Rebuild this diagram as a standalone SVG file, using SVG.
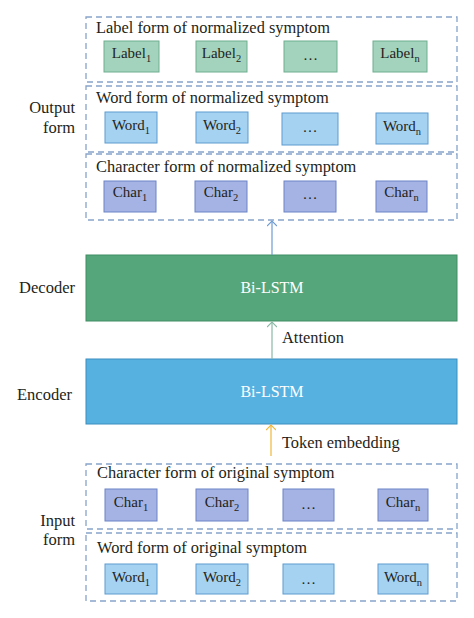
<svg xmlns="http://www.w3.org/2000/svg" width="474" height="618" viewBox="0 0 474 618">
<style>
text{font-family:"Liberation Serif","Times New Roman",serif;fill:#231f20}
.t{font-size:16.4px}
.b{font-size:15px;text-anchor:middle}
.s{font-size:10.5px}
.sec{fill:#fff;stroke:#87a4ca;stroke-width:1.3;stroke-dasharray:6 4}
.lab{fill:#a3d3bd;stroke:#6fae90;stroke-width:1}
.wrd{fill:#a6d2f1;stroke:#5c9bd0;stroke-width:1}
.chr{fill:#a4b3e3;stroke:#6d83c6;stroke-width:1}
.side{font-size:16.5px;text-anchor:end}
.big{font-size:16px;fill:#fff;text-anchor:middle}
</style>
<defs>
<marker id="ab" viewBox="0 0 10 10" refX="5" refY="1" markerWidth="10" markerHeight="10" markerUnits="userSpaceOnUse">
<path d="M0,6 L5,1 L10,6" fill="none" stroke="#6e9bd0" stroke-width="1.2"/>
</marker>
<marker id="ag" viewBox="0 0 10 10" refX="5" refY="1" markerWidth="10" markerHeight="10" markerUnits="userSpaceOnUse">
<path d="M0,6 L5,1 L10,6" fill="none" stroke="#8ab8a4" stroke-width="1.2"/>
</marker>
<marker id="ay" viewBox="0 0 10 10" refX="5" refY="1" markerWidth="10" markerHeight="10" markerUnits="userSpaceOnUse">
<path d="M0,6 L5,1 L10,6" fill="none" stroke="#f2b63a" stroke-width="1.2"/>
</marker>
</defs>

<g id="side-labels">
<text class="side" x="75" y="113">Output</text>
<text class="side" x="75" y="133">form</text>
<text class="side" x="75" y="293">Decoder</text>
<text class="side" x="72" y="400">Encoder</text>
<text class="side" x="75" y="526">Input</text>
<text class="side" x="75" y="545">form</text>
</g>

<g id="label-form">
<rect class="sec" x="86" y="17" width="371" height="65"/>
<text class="t" x="96" y="33">Label form of normalized symptom</text>
<rect class="lab" x="104" y="41" width="55" height="31"/>
<text class="b" x="131.5" y="58">Label<tspan class="s" dy="4">1</tspan></text>
<rect class="lab" x="196" y="41" width="51" height="31"/>
<text class="b" x="221.5" y="58">Label<tspan class="s" dy="4">2</tspan></text>
<rect class="lab" x="284" y="41" width="53" height="31"/>
<text class="b" x="310.5" y="60">…</text>
<rect class="lab" x="373" y="41" width="54" height="31"/>
<text class="b" x="400" y="58">Label<tspan class="s" dy="4">n</tspan></text>
</g>

<g id="word-form-normalized">
<rect class="sec" x="86" y="86" width="371" height="66"/>
<text class="t" x="96" y="103">Word form of normalized symptom</text>
<rect class="wrd" x="105" y="112" width="52" height="31"/>
<text class="b" x="131" y="130">Word<tspan class="s" dy="4">1</tspan></text>
<rect class="wrd" x="196" y="112" width="52" height="31"/>
<text class="b" x="222" y="130">Word<tspan class="s" dy="4">2</tspan></text>
<rect class="wrd" x="282" y="113" width="56" height="32"/>
<text class="b" x="310" y="132">…</text>
<rect class="wrd" x="376" y="113" width="52" height="31"/>
<text class="b" x="402" y="131">Word<tspan class="s" dy="4">n</tspan></text>
</g>

<g id="char-form-normalized">
<rect class="sec" x="86" y="154" width="371" height="66"/>
<text class="t" x="96" y="172">Character form of normalized symptom</text>
<rect class="chr" x="104" y="181" width="52" height="31"/>
<text class="b" x="130" y="197">Char<tspan class="s" dy="4">1</tspan></text>
<rect class="chr" x="195" y="181" width="52" height="31"/>
<text class="b" x="221" y="197">Char<tspan class="s" dy="4">2</tspan></text>
<rect class="chr" x="284" y="181" width="52" height="31"/>
<text class="b" x="310" y="199">…</text>
<rect class="chr" x="376" y="181" width="51" height="31"/>
<text class="b" x="401.5" y="197">Char<tspan class="s" dy="4">n</tspan></text>
</g>

<g id="decoder">
<rect x="86" y="255" width="371" height="66" fill="#56a67c" stroke="#3f8d63" stroke-width="1"/>
<text class="big" x="272" y="293">Bi-LSTM</text>
</g>

<g id="encoder">
<rect x="86" y="359" width="371" height="65" fill="#56b1e0" stroke="#3b8ec0" stroke-width="1"/>
<text class="big" x="272" y="397">Bi-LSTM</text>
</g>

<g id="char-form-original">
<rect class="sec" x="86" y="464" width="371" height="65"/>
<text class="t" x="97" y="478">Character form of original symptom</text>
<rect class="chr" x="105" y="489" width="52" height="32"/>
<text class="b" x="131" y="507">Char<tspan class="s" dy="4">1</tspan></text>
<rect class="chr" x="196" y="489" width="52" height="32"/>
<text class="b" x="222" y="507">Char<tspan class="s" dy="4">2</tspan></text>
<rect class="chr" x="283" y="489" width="51" height="32"/>
<text class="b" x="308.5" y="509">…</text>
<rect class="chr" x="378" y="489" width="50" height="32"/>
<text class="b" x="403" y="507">Char<tspan class="s" dy="4">n</tspan></text>
</g>

<g id="word-form-original">
<rect class="sec" x="86" y="533" width="371" height="68"/>
<text class="t" x="97" y="553">Word form of original symptom</text>
<rect class="wrd" x="105" y="564" width="52" height="30"/>
<text class="b" x="131" y="582">Word<tspan class="s" dy="4">1</tspan></text>
<rect class="wrd" x="196" y="564" width="52" height="30"/>
<text class="b" x="222" y="582">Word<tspan class="s" dy="4">2</tspan></text>
<rect class="wrd" x="283" y="564" width="51" height="30"/>
<text class="b" x="308.5" y="584">…</text>
<rect class="wrd" x="378" y="564" width="50" height="30"/>
<text class="b" x="403" y="582">Word<tspan class="s" dy="4">n</tspan></text>
</g>

<g id="connectors">
<line x1="272" y1="255" x2="272" y2="221" stroke="#6e9bd0" stroke-width="1.2" marker-end="url(#ab)"/>
<line x1="272" y1="359" x2="272" y2="322" stroke="#8ab8a4" stroke-width="1.2" marker-end="url(#ag)"/>
<text class="t" x="282" y="343">Attention</text>
<line x1="271" y1="456" x2="271" y2="425" stroke="#f2b63a" stroke-width="1.2" marker-end="url(#ay)"/>
<text class="t" x="282" y="448">Token embedding</text>
</g>
</svg>
